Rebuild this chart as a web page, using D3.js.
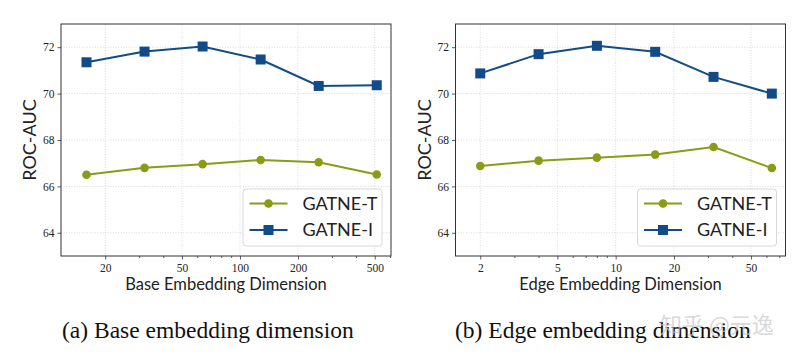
<!DOCTYPE html>
<html>
<head>
<meta charset="utf-8">
<script src="https://cdn.jsdelivr.net/npm/d3@7"></script>
<style>
  html, body { margin: 0; padding: 0; background: #fff; }
  svg { display: block; }
</style>
</head>
<body>
<svg id="chart" width="811" height="359"></svg>
<script>
// ---- data ----
const baseDims = [16, 32, 64, 128, 256, 512];
const baseGatneT = [66.50, 66.80, 66.96, 67.14, 67.04, 66.51];
const baseGatneI = [71.35, 71.81, 72.03, 71.47, 70.33, 70.36];

const edgeDims = [2, 4, 8, 16, 32, 64];
const edgeGatneT = [66.88, 67.11, 67.24, 67.37, 67.70, 66.79];
const edgeGatneI = [70.87, 71.70, 72.06, 71.80, 70.72, 70.00];

const yTicks = [64, 66, 68, 70, 72];
const baseXTicks = [20, 50, 100, 200, 500];
const baseXMinor = [30, 40, 60, 70, 80, 90, 300, 400, 600];
const edgeXTicks = [2, 5, 10, 20, 50];
const edgeXMinor = [3, 4, 6, 7, 8, 9, 30, 40, 60, 70];

const seriesNames = ["GATNE-T", "GATNE-I"];
const xLabels = ["Base Embedding Dimension", "Edge Embedding Dimension"];
const captions = ["(a) Base embedding dimension", "(b) Edge embedding dimension"];
const yLabel = "ROC-AUC";

const colorT = "#8a9b18";
const colorI = "#114c88";

const svg = d3.select("#chart");

function panel(opt) {
  const x = d3.scaleLog().domain(opt.xDomain).range([opt.left, opt.right]);
  const y = d3.scaleLinear().domain([63, 73]).range([opt.bottom, opt.top]);
  const g = svg.append("g");

  // grid
  g.selectAll(".gy").data(yTicks).join("line")
    .attr("x1", opt.left).attr("x2", opt.right)
    .attr("y1", d => y(d)).attr("y2", d => y(d))
    .attr("stroke", "#cfcfcf").attr("stroke-width", 0.8).attr("stroke-dasharray", "1,1.6");
  g.selectAll(".gx").data(opt.xTicks).join("line")
    .attr("x1", d => x(d)).attr("x2", d => x(d))
    .attr("y1", opt.top).attr("y2", opt.bottom)
    .attr("stroke", "#cfcfcf").attr("stroke-width", 0.8).attr("stroke-dasharray", "1,1.6");

  // axes
  const yAxis = d3.axisLeft(y).tickValues(yTicks).tickSize(3.5).tickPadding(3).tickFormat(d3.format("d"));
  const ya = g.append("g").attr("transform", `translate(${opt.left},0)`).call(yAxis);
  const xAxis = d3.axisBottom(x).tickValues(opt.xTicks).tickSize(3.5).tickPadding(4).tickFormat(d3.format("d"));
  const xa = g.append("g").attr("transform", `translate(0,${opt.bottom})`).call(xAxis);
  const xMinor = d3.axisBottom(x).tickValues(opt.xMinor).tickSize(2).tickFormat("");
  const xm = g.append("g").attr("transform", `translate(0,${opt.bottom})`).call(xMinor);
  [ya, xa, xm].forEach(a => {
    a.select(".domain").remove();
    a.selectAll("line").attr("stroke", "#333").attr("stroke-width", 0.8);
    a.selectAll("text").attr("fill", "#222").style("font-family", "'Liberation Serif', 'DejaVu Serif', serif").style("font-size", "11.5px");
  });

  // frame
  g.append("rect").attr("x", opt.left).attr("y", opt.top)
    .attr("width", opt.right - opt.left).attr("height", opt.bottom - opt.top)
    .attr("fill", "none").attr("stroke", "#333").attr("stroke-width", 1);

  // lines
  const line = d3.line().x(d => x(d[0])).y(d => y(d[1]));
  const dT = opt.dims.map((d, i) => [d, opt.tVals[i]]);
  const dI = opt.dims.map((d, i) => [d, opt.iVals[i]]);
  g.append("path").datum(dT).attr("d", line).attr("fill", "none").attr("stroke", colorT).attr("stroke-width", 2);
  g.selectAll(".mt").data(dT).join("circle")
    .attr("cx", d => x(d[0])).attr("cy", d => y(d[1])).attr("r", 4.3).attr("fill", colorT);
  g.append("path").datum(dI).attr("d", line).attr("fill", "none").attr("stroke", colorI).attr("stroke-width", 2);
  g.selectAll(".mi").data(dI).join("rect")
    .attr("x", d => x(d[0]) - 5).attr("y", d => y(d[1]) - 5).attr("width", 10).attr("height", 10).attr("fill", colorI);

  // axis labels
  g.append("text").attr("x", (opt.left + opt.right) / 2).attr("y", 290)
    .attr("text-anchor", "middle").attr("fill", "#222")
    .style("font-family", "Lato, 'Noto Sans', sans-serif").style("font-size", "16.5px")
    .text(opt.xLabel);
  g.append("text").attr("transform", `translate(${opt.left - 25},${(opt.top + opt.bottom) / 2}) rotate(-90)`)
    .attr("text-anchor", "middle").attr("fill", "#222")
    .style("font-family", "Lato, 'Noto Sans', sans-serif").style("font-size", "18px")
    .text(yLabel);

  // legend
  const lg = g.append("g");
  lg.append("rect").attr("x", opt.legX).attr("y", 189).attr("width", opt.legW).attr("height", 57)
    .attr("rx", 3).attr("fill", "#fff").attr("fill-opacity", 0.9).attr("stroke", "#d8d8d8").attr("stroke-width", 1);
  const rows = [{name: seriesNames[0], color: colorT, shape: "circle", y: 203.5},
                {name: seriesNames[1], color: colorI, shape: "square", y: 230}];
  rows.forEach(r => {
    const lx = opt.legX + 6.5;
    lg.append("line").attr("x1", lx).attr("x2", lx + 38).attr("y1", r.y).attr("y2", r.y)
      .attr("stroke", r.color).attr("stroke-width", 2);
    if (r.shape === "circle") {
      lg.append("circle").attr("cx", lx + 19).attr("cy", r.y).attr("r", 4.3).attr("fill", r.color);
    } else {
      lg.append("rect").attr("x", lx + 14).attr("y", r.y - 5).attr("width", 10).attr("height", 10).attr("fill", r.color);
    }
    lg.append("text").attr("x", lx + 53).attr("y", r.y).attr("dy", "0.36em")
      .attr("fill", "#222").style("font-family", "Lato, 'Noto Sans', sans-serif").style("font-size", "18px")
      .text(r.name);
  });

  // caption
  g.append("text").attr("x", opt.capX).attr("y", 338)
    .attr("fill", "#111").style("font-family", "'Liberation Serif', 'DejaVu Serif', serif").style("font-size", "23.5px")
    .text(opt.caption);
}

panel({
  left: 61, right: 391, top: 24, bottom: 256,
  xDomain: [11.8, 607], xTicks: baseXTicks, xMinor: baseXMinor,
  dims: baseDims, tVals: baseGatneT, iVals: baseGatneI,
  xLabel: xLabels[0], legX: 243, legW: 139, capX: 62, caption: captions[0]
});
panel({
  left: 455.5, right: 785.5, top: 24, bottom: 256,
  xDomain: [1.49, 75.3], xTicks: edgeXTicks, xMinor: edgeXMinor,
  dims: edgeDims, tVals: edgeGatneT, iVals: edgeGatneI,
  xLabel: xLabels[1], legX: 637.5, legW: 139, capX: 455, caption: captions[1]
});

// watermark (faint, as in the reference)
svg.append("text").attr("x", 660).attr("y", 333)
  .attr("fill", "#c8c8c8").attr("fill-opacity", 0.7)
  .style("font-family", "'Noto Sans CJK SC', sans-serif").style("font-size", "22px")
  .text("知乎 @元逸");
</script>
</body>
</html>
